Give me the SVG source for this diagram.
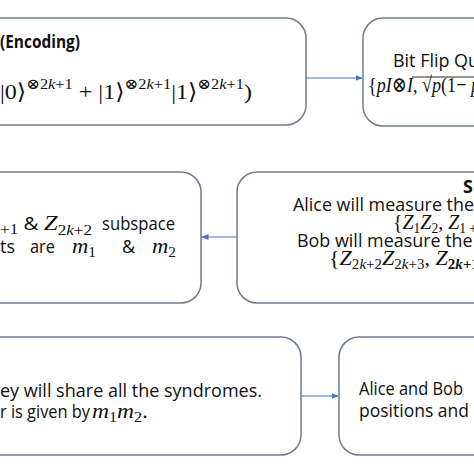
<svg xmlns="http://www.w3.org/2000/svg" width="474" height="474" viewBox="0 0 474 474">
<defs>
<marker id="ah" markerWidth="7" markerHeight="6" refX="6.5" refY="3" orient="auto" markerUnits="userSpaceOnUse">
<path d="M0,0 L7,3 L0,6 Z" fill="#4472c4"/>
</marker>
<style>
.box{fill:#fff;stroke:#6e7b8d;stroke-width:1.5}
.con{stroke:#4472c4;stroke-width:1.2;fill:none;marker-end:url(#ah)}
.t{font-family:"Open Sans","Lato","Liberation Sans",sans-serif;font-size:18px;fill:#111}
.b{font-weight:bold}
.m{font-family:"Liberation Serif","DejaVu Serif",serif;font-size:22px;fill:#111}
.i{font-style:italic}
.s{font-size:15px}
</style>
</defs>
<rect width="474" height="474" fill="#fff"/>
<g id="connectors">
<line class="con" x1="306" y1="78" x2="362" y2="78"/>
<line class="con" x1="237" y1="237" x2="202" y2="237"/>
<line class="con" x1="301" y1="396" x2="338" y2="396"/>
</g>
<g id="node-encoding">
<rect class="box" x="-40" y="18" width="346" height="107" rx="20"/>
<text class="t b" x="0" y="48" textLength="80" lengthAdjust="spacingAndGlyphs">(Encoding)</text>
<text class="m" x="0" y="99" textLength="252" lengthAdjust="spacingAndGlyphs">|0⟩<tspan class="s" dy="-10">⊗2<tspan class="i">k</tspan>+1</tspan><tspan dy="10"> + |1⟩</tspan><tspan class="s" dy="-10">⊗2<tspan class="i">k</tspan>+1</tspan><tspan dy="10">|1⟩</tspan><tspan class="s" dy="-10">⊗2<tspan class="i">k</tspan>+1</tspan><tspan dy="10">)</tspan></text>
</g>
<g id="node-channel">
<rect class="box" x="363" y="18" width="150" height="108" rx="20"/>
<text class="t" x="393" y="67" textLength="86" lengthAdjust="spacingAndGlyphs">Bit Flip Qu</text>
<text class="m" x="368" y="92" font-size="19" textLength="112" lengthAdjust="spacingAndGlyphs">{<tspan class="i">pI</tspan>⊗<tspan class="i">I</tspan>, √<tspan class="i">p</tspan>(1− <tspan class="i">p</tspan></text>
<line x1="412" y1="77" x2="474" y2="77" stroke="#111" stroke-width="0.9"/>
</g>
<g id="node-result">
<rect class="box" x="-40" y="172" width="241" height="131" rx="20"/>
<text class="m" x="0" y="230" textLength="92" lengthAdjust="spacingAndGlyphs"><tspan class="s" dy="4">+1</tspan><tspan class="t" dy="-4">  &amp;  </tspan><tspan class="i">Z</tspan><tspan class="s" dy="5">2<tspan class="i">k</tspan>+2</tspan></text>
<text class="t" x="102" y="230" textLength="73" lengthAdjust="spacingAndGlyphs">subspace</text>
<text class="t" x="0" y="253" textLength="15" lengthAdjust="spacingAndGlyphs">ts</text>
<text class="t" x="30" y="253" textLength="25" lengthAdjust="spacingAndGlyphs">are</text>
<text class="m" x="72" y="253" textLength="24" lengthAdjust="spacingAndGlyphs"><tspan class="i">m</tspan><tspan class="s" dy="4">1</tspan></text>
<text class="t" x="122" y="253">&amp;</text>
<text class="m" x="152" y="253" textLength="24" lengthAdjust="spacingAndGlyphs"><tspan class="i">m</tspan><tspan class="s" dy="4">2</tspan></text>
</g>
<g id="node-syndrome">
<rect class="box" x="237" y="172" width="260" height="131" rx="20"/>
<text class="t b" x="463" y="193">S</text>
<text class="t" x="293" y="211" textLength="181" lengthAdjust="spacingAndGlyphs">Alice will measure the</text>
<text class="m" x="393" y="229" textLength="84" lengthAdjust="spacingAndGlyphs">{<tspan class="i">Z</tspan><tspan class="s" dy="4">1</tspan><tspan class="i" dy="-4">Z</tspan><tspan class="s" dy="4">2</tspan><tspan dy="-4">, </tspan><tspan class="i">Z</tspan><tspan class="s" dy="4">1 +</tspan></text>
<text class="t" x="297" y="247" textLength="185" lengthAdjust="spacingAndGlyphs">Bob will measure the :</text>
<text class="m" x="329" y="265" textLength="150" lengthAdjust="spacingAndGlyphs">{<tspan class="i">Z</tspan><tspan class="s" dy="4">2<tspan class="i">k</tspan>+2</tspan><tspan class="i" dy="-4">Z</tspan><tspan class="s" dy="4">2<tspan class="i">k</tspan>+3</tspan><tspan dy="-4">, </tspan><tspan class="i">Z</tspan><tspan class="s b" dy="4">2<tspan class="i">k</tspan>+1</tspan></text>
</g>
<g id="node-share">
<rect class="box" x="-40" y="337" width="341" height="118" rx="20"/>
<text class="t" x="0" y="397" textLength="262" lengthAdjust="spacingAndGlyphs">ey will share all the syndromes.</text>
<text class="t" x="0" y="418" textLength="90" lengthAdjust="spacingAndGlyphs">r is given by</text>
<text class="m" x="92" y="418" textLength="56" lengthAdjust="spacingAndGlyphs"><tspan class="i">m</tspan><tspan class="s" dy="4">1</tspan><tspan class="i" dy="-4">m</tspan><tspan class="s" dy="4">2</tspan><tspan dy="-4">.</tspan></text>
</g>
<g id="node-correct">
<rect class="box" x="339" y="337" width="160" height="118" rx="20"/>
<text class="t" x="359" y="395" textLength="104" lengthAdjust="spacingAndGlyphs">Alice and Bob</text>
<text class="t" x="359" y="417" textLength="110" lengthAdjust="spacingAndGlyphs">positions and</text>
</g>
</svg>
